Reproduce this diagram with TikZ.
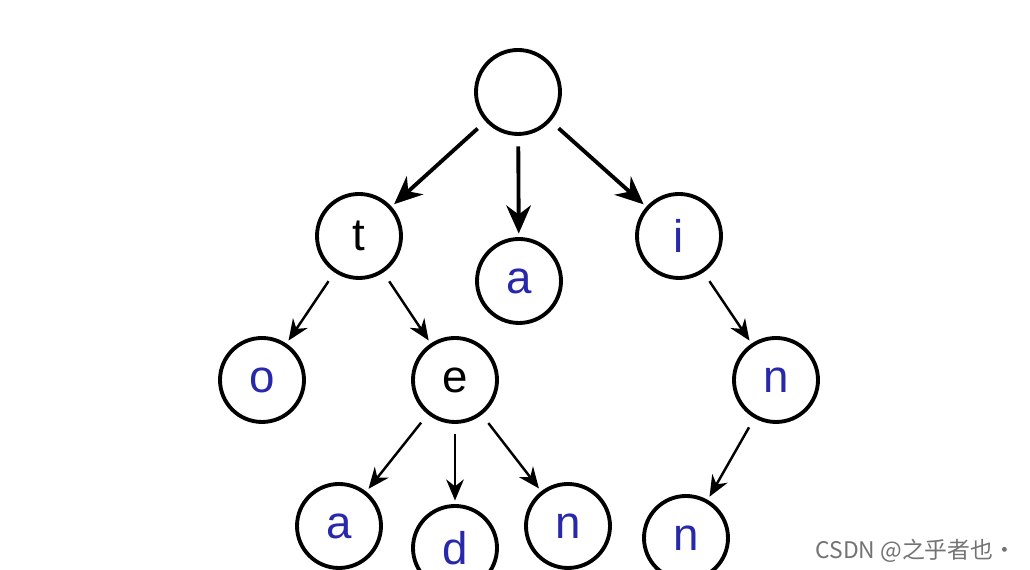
\documentclass[tikz,border=0pt]{standalone}
\usepackage{fontspec}
\setmainfont{Liberation Sans}
\newfontfamily\cjk{Noto Sans CJK SC}
\usetikzlibrary{arrows.meta}
\definecolor{letterblue}{RGB}{40,40,170}
\tikzset{
  letter/.style={draw, circle, line width=1.1pt, minimum size=0.84cm, inner sep=0pt, font=\fontsize{13}{13}\selectfont, text=letterblue},
  edge/.style={-{Stealth[length=6pt,width=5pt]}, line width=0.7pt, shorten >=1pt, shorten <=3pt},
  bigedge/.style={edge, line width=1.1pt, -{Stealth[length=8pt,width=7pt]}}
}
\begin{document}
\begin{tikzpicture}
\useasboundingbox[fill=white] (0,-5.7) rectangle (10.3,0);
\node[letter] (root) at (5.18,-0.92) {};

\node[letter, text=black] (t) at (3.59,-2.36) {t};
\node[letter] (a1) at (5.19,-2.81) {a};
\node[letter] (i) at (6.79,-2.36) {i};

\node[letter] (o) at (2.62,-3.80) {o};
\node[letter, text=black] (e) at (4.55,-3.80) {e};
\node[letter] (n1) at (7.76,-3.80) {n};

\node[letter] (a2) at (3.39,-5.26) {a};
\node[letter] (d) at (4.55,-5.48) {d};
\node[letter] (n2) at (5.68,-5.26) {n};
\node[letter] (n3) at (6.86,-5.38) {n};

\draw[bigedge] (root) -- (t);
\draw[bigedge] (root) -- (a1);
\draw[bigedge] (root) -- (i);
\draw[edge] (t) -- (o);
\draw[edge] (t) -- (e);
\draw[edge] (i) -- (n1);
\draw[edge] (e) -- (a2);
\draw[edge] (e) -- (d);
\draw[edge] (e) -- (n2);
\draw[edge] (n1) -- (n3);

\node[text=black!55, anchor=east, inner sep=0pt, font=\cjk\fontsize{6.5}{6.5}\selectfont] (mark) at (10.17,-5.51) {CSDN @之乎者也·};
\end{tikzpicture}
\end{document}
